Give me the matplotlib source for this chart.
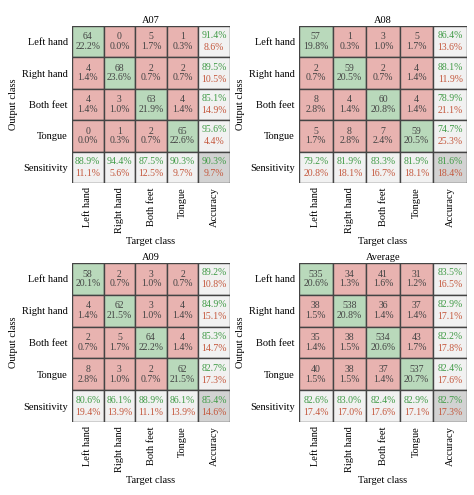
import numpy as np
import matplotlib.pyplot as plt

classes = ['Left hand', 'Right hand', 'Both feet', 'Tongue']
titles = ['A07', 'A08', 'A09', 'Average']

cm_a07 = [[64, 0, 5, 1], [4, 68, 2, 2], [4, 3, 63, 4], [0, 1, 2, 65]]
cm_a08 = [[57, 1, 3, 5], [2, 59, 2, 4], [8, 4, 60, 4], [5, 8, 7, 59]]
cm_a09 = [[58, 2, 3, 2], [4, 62, 3, 4], [2, 5, 64, 4], [8, 3, 2, 62]]
cm_avg = [[535, 34, 41, 31], [38, 538, 36, 37], [35, 38, 534, 43], [40, 38, 37, 537]]

GREEN = '#b9d9bb'
RED = '#e8b3b0'
LIGHT = '#f1f1f1'
DARK = '#d2d2d2'
GTXT = '#3f9a45'
RTXT = '#c4573c'

plt.rcParams['font.family'] = ['Liberation Serif', 'DejaVu Serif']

fig = plt.figure(figsize=(4.74, 4.95), dpi=100)
W, H = 474, 495
# grid boxes in pixels: (left, top, right, bottom)
boxes = [(72, 26, 230, 183), (299, 26, 467, 183),
         (72, 263, 230, 422), (299, 263, 467, 422)]


def draw(ax, cm, title):
    cm = np.array(cm, dtype=float)
    total = cm.sum()
    n = len(classes)
    for i in range(n + 1):
        for j in range(n + 1):
            if i < n and j < n:
                fc = GREEN if i == j else RED
            elif i == n and j == n:
                fc = DARK
            else:
                fc = LIGHT
            ax.add_patch(plt.Rectangle((j, i), 1, 1, facecolor=fc,
                                       edgecolor='#444444', lw=1.0))
            if i < n and j < n:
                ax.text(j + 0.5, i + 0.5, f'{int(cm[i, j])}\n{100 * cm[i, j] / total:.1f}%',
                        ha='center', va='center', fontsize=7, color='#444444',
                        linespacing=1.1)
                continue
            if i < n and j == n:
                p = 100 * cm[i, i] / cm[i].sum()
            elif i == n and j < n:
                p = 100 * cm[j, j] / cm[:, j].sum()
            else:
                p = 100 * np.trace(cm) / total
            ax.text(j + 0.5, i + 0.31, f'{p:.1f}%', ha='center', va='center',
                    fontsize=7, color=GTXT)
            ax.text(j + 0.5, i + 0.69, f'{100 - p:.1f}%', ha='center', va='center',
                    fontsize=7, color=RTXT)
    ax.set_xlim(0, n + 1)
    ax.set_ylim(n + 1, 0)
    ax.set_xticks(np.arange(n + 1) + 0.5)
    ax.set_xticklabels(classes + ['Accuracy'], rotation=90, fontsize=7.5)
    ax.set_yticks(np.arange(n + 1) + 0.5)
    ax.set_yticklabels(classes + ['Sensitivity'], fontsize=7.5)
    ax.tick_params(length=0, pad=3)
    for s in ax.spines.values():
        s.set_visible(False)
    ax.set_title(title, fontsize=7.5, pad=2)
    ax.set_xlabel('Target class', fontsize=7.5, labelpad=3)
    ax.set_ylabel('Output class', fontsize=7.5, labelpad=3)


for (l, t, r, b), cm, title in zip(boxes, [cm_a07, cm_a08, cm_a09, cm_avg], titles):
    ax = fig.add_axes([l / W, 1 - b / H, (r - l) / W, (b - t) / H])
    draw(ax, cm, title)

fig.savefig('out.png', dpi=100)
